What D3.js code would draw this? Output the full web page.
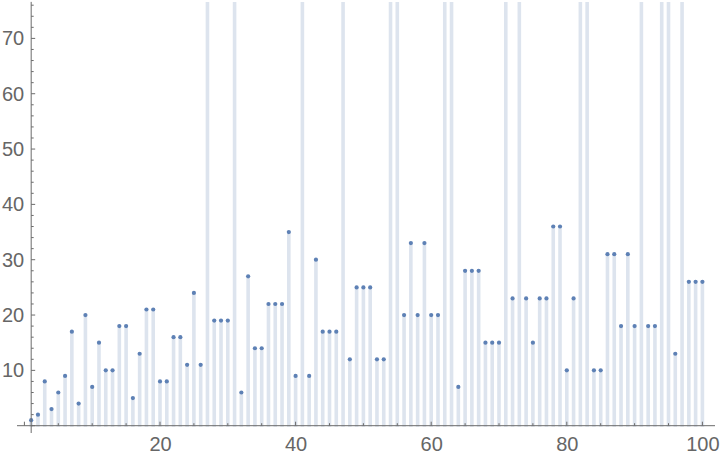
<!DOCTYPE html>
<html>
<head>
<meta charset="utf-8">
<script src="https://cdn.jsdelivr.net/npm/d3@7"></script>
<style>
  body { margin: 0; background: white; }
  svg { display: block; }
</style>
</head>
<body>
<div id="chart"></div>
<script>
// n = 1..100
var N_VALUES = d3.range(1, 101);
var SEQ_LENGTHS = [
    1, 2, 8, 3, 6, 9, 17, 4, 20, 7, 15, 10, 10, 18, 18, 5, 13, 21, 21, 8,
    8, 16, 16, 11, 24, 11, 112, 19, 19, 19, 107, 6, 27, 14, 14, 22, 22, 22, 35, 9,
    110, 9, 30, 17, 17, 17, 105, 12, 25, 25, 25, 12, 12, 113, 113, 20, 33, 20, 33, 20,
    20, 108, 108, 7, 28, 28, 28, 15, 15, 15, 103, 23, 116, 23, 15, 23, 23, 36, 36, 10,
    23, 111, 111, 10, 10, 31, 31, 18, 31, 18, 93, 18, 18, 106, 106, 13, 119, 26, 26, 26
];
var X_TICKS = [20, 40, 60, 80, 100];
var Y_TICKS = [10, 20, 30, 40, 50, 60, 70];

var WIDTH = 722;
var HEIGHT = 458;

const STEM_COLOR = "#dde4ee";
const POINT_COLOR = "#5e81b5";
const AXIS_COLOR = "#6b6b6b";
const LABEL_COLOR = "#666666";
const LABEL_FONT = "'Liberation Sans', Arial, sans-serif";

const render = () => {
    let data = N_VALUES.map((n, i) => {
        return {n: n, v: SEQ_LENGTHS[i]};
    });

    let svg = d3.select("#chart")
        .append("svg")
            .attr("width", WIDTH)
            .attr("height", HEIGHT)
            .style("background-color", "white");

    let xScale = d3.scaleLinear().domain([0, 100]).range([24.4, 702.4]);
    let yScale = d3.scaleLinear().domain([0, 70]).range([425.7, 38.4]);
    let yTop = 76.6;

    // Clip so tall stems run off the top
    svg.append("clipPath")
        .attr("id", "plot-clip")
        .append("rect")
            .attr("x", 0)
            .attr("y", yScale(yTop))
            .attr("width", WIDTH)
            .attr("height", yScale(0) - yScale(yTop) + 2);

    let plot = svg.append("g").attr("clip-path", "url(#plot-clip)");

    // Stems
    plot.selectAll(".stem")
        .data(data)
        .enter()
        .append("line")
            .attr("class", "stem")
            .attr("x1", (d) => xScale(d.n))
            .attr("x2", (d) => xScale(d.n))
            .attr("y1", yScale(0) + 1)
            .attr("y2", (d) => yScale(d.v))
            .attr("stroke", STEM_COLOR)
            .attr("stroke-width", 3.6);

    // Axes
    let xAxis = svg.append("g")
        .attr("transform", "translate(0," + yScale(0) + ")");
    xAxis.call(d3.axisBottom(xScale)
            .tickValues(X_TICKS)
            .tickSize(0)
            .tickPadding(11)
            .tickFormat(d3.format("d")))
        .call((g) => g.select(".domain").remove());
    xAxis.selectAll(".tick text")
        .attr("font-family", LABEL_FONT)
        .attr("font-size", "20")
        .attr("fill", LABEL_COLOR);
    xAxis.append("line")
        .attr("x1", 17).attr("x2", 715)
        .attr("stroke", AXIS_COLOR)
        .attr("stroke-width", 1);
    // major and minor ticks on x, drawn upward
    xAxis.selectAll(".minor-x")
        .data(d3.range(0, 101, 5))
        .enter()
        .append("line")
            .attr("x1", (d) => xScale(d))
            .attr("x2", (d) => xScale(d))
            .attr("y1", 0)
            .attr("y2", (d) => d % 20 === 0 ? -4 : -2.5)
            .attr("stroke", AXIS_COLOR)
            .attr("stroke-width", 1);

    let yAxis = svg.append("g")
        .attr("transform", "translate(" + xScale(1) + ",0)");
    yAxis.call(d3.axisLeft(yScale)
            .tickValues(Y_TICKS)
            .tickSize(0)
            .tickPadding(7)
            .tickFormat(d3.format("d")))
        .call((g) => g.select(".domain").remove());
    yAxis.selectAll(".tick text")
        .attr("font-family", LABEL_FONT)
        .attr("font-size", "20")
        .attr("fill", LABEL_COLOR);
    yAxis.append("line")
        .attr("y1", 433).attr("y2", yScale(yTop))
        .attr("stroke", AXIS_COLOR)
        .attr("stroke-width", 1);
    yAxis.selectAll(".minor-y")
        .data(d3.range(0, 77, 2))
        .enter()
        .append("line")
            .attr("x1", 0)
            .attr("x2", (d) => d % 10 === 0 ? 4 : 2.5)
            .attr("y1", (d) => yScale(d))
            .attr("y2", (d) => yScale(d))
            .attr("stroke", AXIS_COLOR)
            .attr("stroke-width", 1);

    // Points
    plot.selectAll(".pt")
        .data(data)
        .enter()
        .append("circle")
            .attr("class", "pt")
            .attr("cx", (d) => xScale(d.n))
            .attr("cy", (d) => yScale(d.v))
            .attr("r", 2.1)
            .attr("fill", POINT_COLOR);
}

render();
</script>
</body>
</html>
